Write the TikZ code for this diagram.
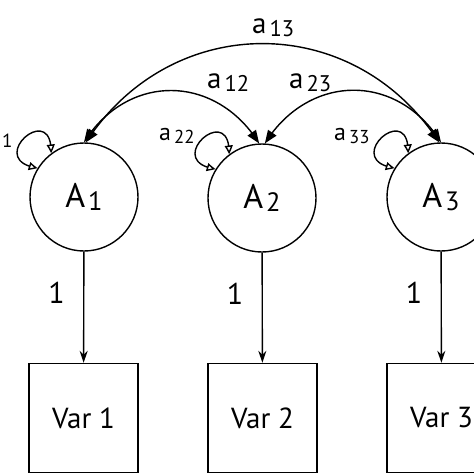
\documentclass[tikz,border=0pt]{standalone}
\usepackage{fontspec}
\setmainfont{PT Sans}
\usetikzlibrary{arrows.meta,bending,positioning}

\newcommand{\lowsub}[3]{{\fontsize{#3}{#3}\selectfont #1}\kern3pt\raisebox{-0.36em}{\fontsize{0.78\dimexpr#3pt\relax}{1em}\selectfont #2}}

\tikzset{
	latent/.style={circle, draw, line width=1.4pt, minimum size=108pt, inner sep=0pt},
	manifest/.style={rectangle, draw, line width=1.4pt, minimum size=109pt, inner sep=0pt, font=\fontsize{29}{29}\selectfont},
	cov/.style={{Triangle[length=13pt,width=10pt]}-{Triangle[length=13pt,width=10pt]}, line width=1.4pt},
	selfvar/.style={{Triangle[open,length=9pt,width=8pt,fill=white,bend]}-{Triangle[open,length=9pt,width=8pt,fill=white,bend]}, line width=1.4pt, out=88, in=172, looseness=7},
	load/.style={-{Stealth[length=12pt,width=8pt]}, line width=1.4pt},
	lbl/.style={inner sep=0pt, anchor=base west},
}

\begin{document}
\begin{tikzpicture}[x=1pt, y=-1pt]
	\useasboundingbox (0,0) rectangle (474,474);
	\clip (0,0) rectangle (474,474);

	\node[latent] (A1) at (84,197) {\lowsub{A}{1}{34}};
	\node[latent] (A2) at (262,198) {\lowsub{A}{2}{34}};
	\node[latent] (A3) at (441,197) {\lowsub{A}{3}{34}};

	\node[manifest] (V1) at (83.5,418) {Var 1};
	\node[manifest] (V2) at (262.5,418) {Var 2};
	\node[manifest] (V3) at (441.5,418) {Var 3};

	\draw[load] (A1) -- node[pos=0.37, left=15pt, font=\fontsize{30}{30}\selectfont] {1} (V1);
	\draw[load] (A2) -- node[pos=0.37, left=15pt, font=\fontsize{30}{30}\selectfont] {1} (V2);
	\draw[load] (A3) -- node[pos=0.37, left=15pt, font=\fontsize{30}{30}\selectfont] {1} (V3);

	\draw[selfvar] (A1.127) to (A1.148);
	\draw[selfvar] (A2.127) to (A2.148);
	\draw[selfvar] (A3.127) to (A3.148);

	\draw[cov] (A1.90) to[out=58, in=122, looseness=1.2] (A2.93);
	\draw[cov] (A2.87) to[out=58, in=122, looseness=1.2] (A3.90);
	\draw[cov] (A1.88) to[out=57, in=123, looseness=1.14] (A3.92);

	\node[lbl] (l12) at (207,88) {\lowsub{a}{12}{29}};
	\node[lbl] (l23) at (289,88) {\lowsub{a}{23}{29}};
	\node[lbl] (l13) at (252,33) {\lowsub{a}{13}{29}};
	\node[lbl] (l11) at (2,147) {\fontsize{19}{19}\selectfont 1};
	\node[lbl] (l22) at (159,140) {\lowsub{a}{22}{24}};
	\node[lbl] (l33) at (334,140) {\lowsub{a}{33}{24}};
\end{tikzpicture}
\end{document}
